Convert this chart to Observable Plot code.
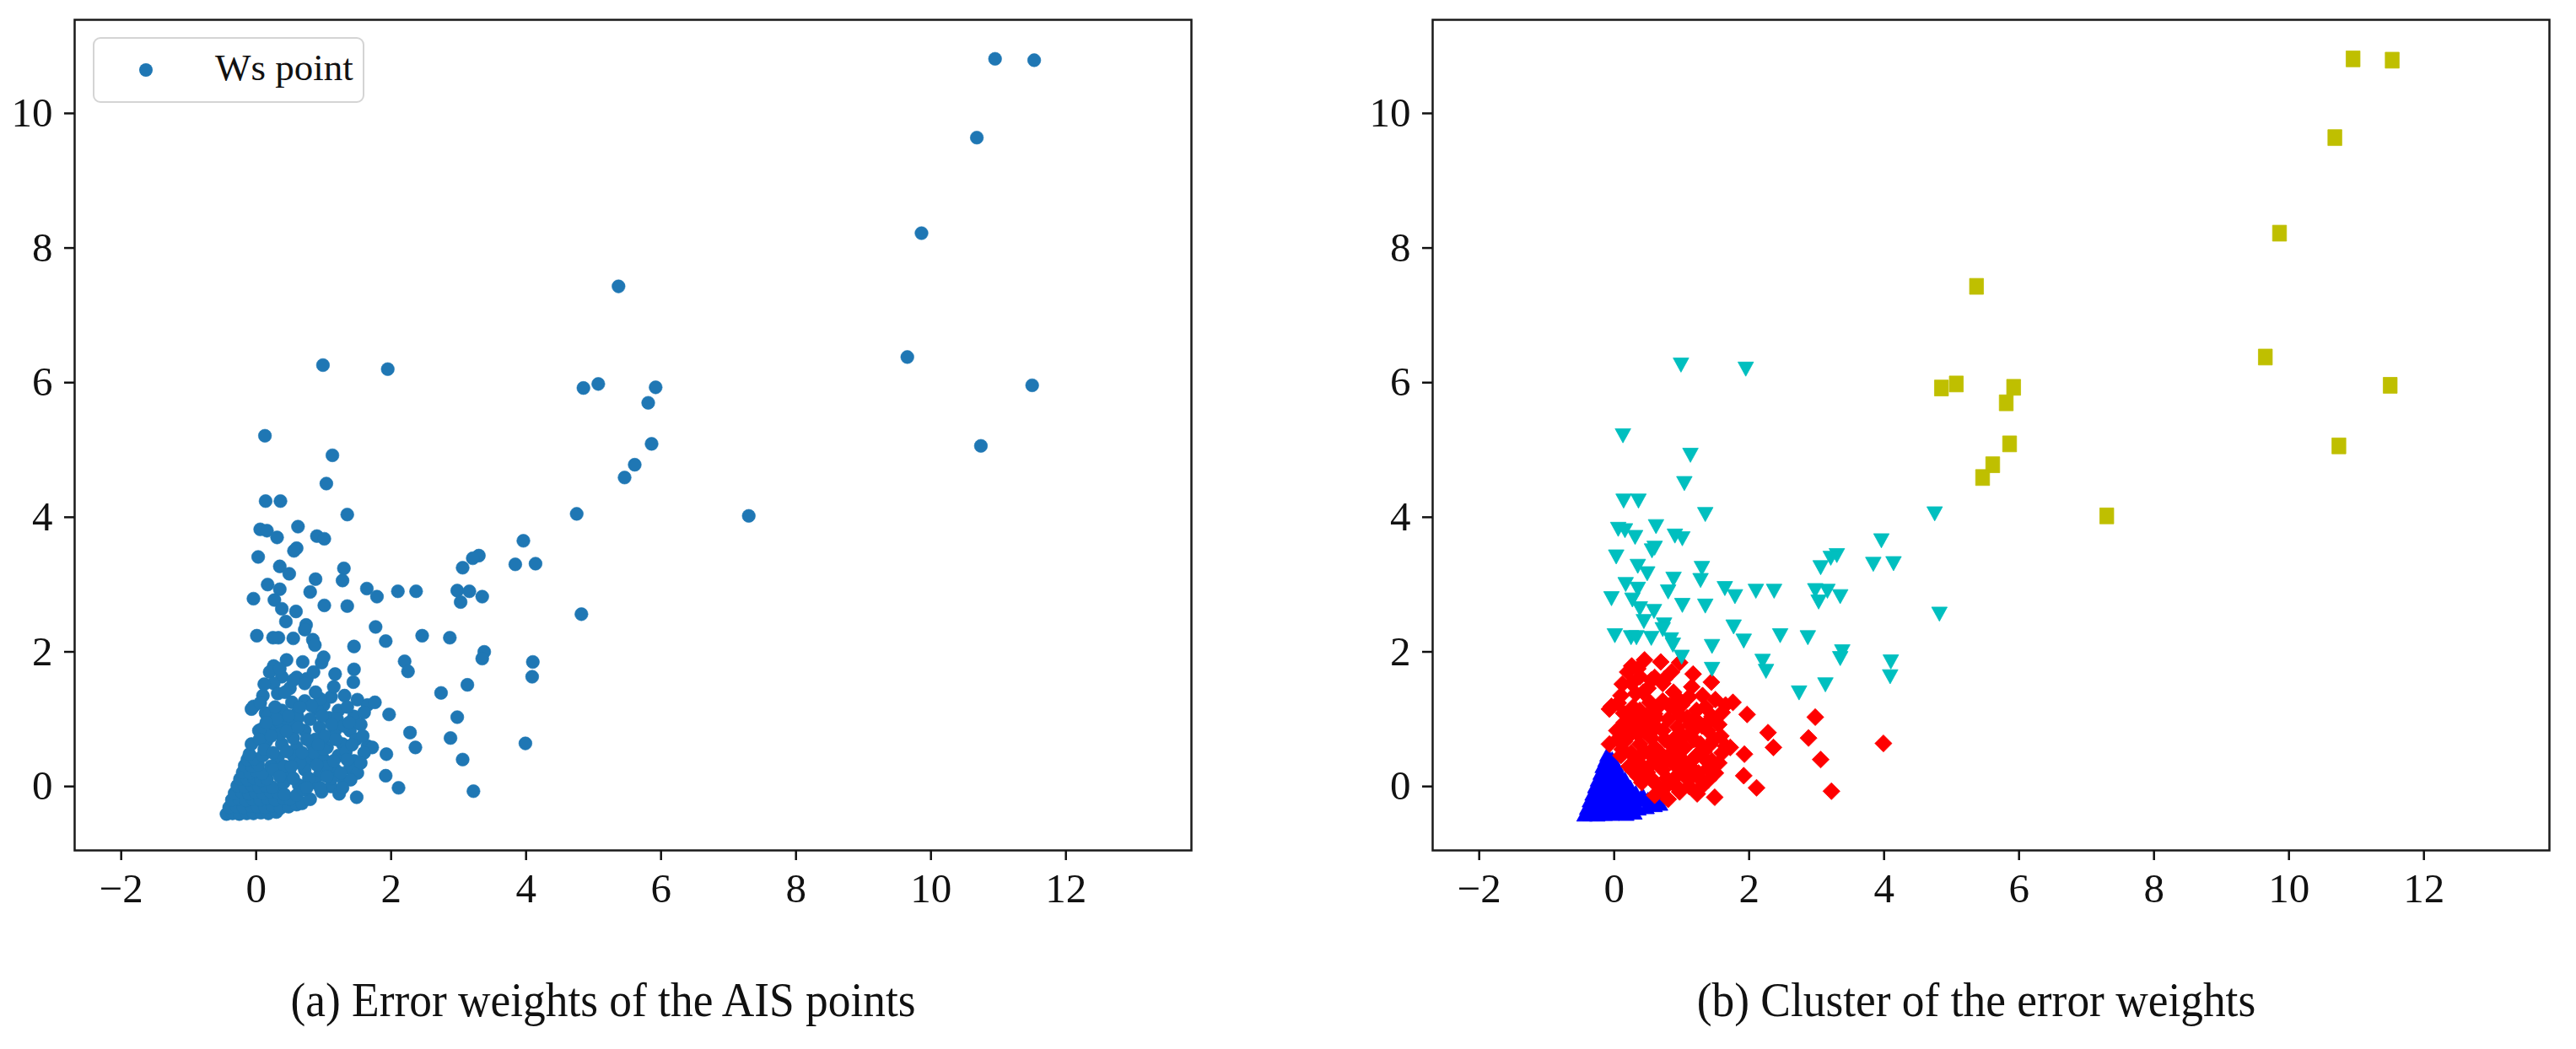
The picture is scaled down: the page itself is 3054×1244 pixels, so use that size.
<!DOCTYPE html>
<html>
<head>
<meta charset="utf-8">
<script src="https://cdn.jsdelivr.net/npm/d3@7"></script>
<script src="https://cdn.jsdelivr.net/npm/@observablehq/plot@0.6"></script>
<style>
  html, body { margin: 0; padding: 0; background: #fff; }
  #page { position: relative; width: 3054px; height: 1244px; overflow: hidden; background: #fff; font-family: "Liberation Serif", "DejaVu Serif", serif; }
  .panel { position: absolute; top: 0; }
  .caption { position: absolute; font-size: 58px; line-height: 58px; white-space: nowrap; color: #111; transform: translateX(-50%) scaleX(0.92); transform-origin: 50% 50%; }
  #legend { position: absolute; left: 110px; top: 44px; width: 318px; height: 74px; border: 2.5px solid #d4d4d4; border-radius: 9px; background: rgba(255,255,255,0.85); }
  #legend .dot { position: absolute; left: 53px; top: 29px; width: 16px; height: 16px; border-radius: 50%; background: #1f77b4; }
  #legend .lbl { position: absolute; left: 143px; top: 8px; font-size: 45px; line-height: 52px; color: #111; white-space: nowrap; }
</style>
</head>
<body>
<div id="page">
  <div id="left" class="panel" style="left:0px"></div>
  <div id="right" class="panel" style="left:1610px"></div>
  <div id="legend"><div class="dot"></div><div class="lbl">Ws point</div></div>
  <div class="caption" style="left:715px; top:1157px">(a) Error weights of the AIS points</div>
  <div class="caption" style="left:2343px; top:1157px">(b) Cluster of the error weights</div>
</div>
<script>
// ---- data (x, y) per cluster ----
const clusterYellow = [
  [10.95,10.81],[11.53,10.79],[10.68,9.64],[9.86,8.22],[5.37,7.43],[9.65,6.38],[11.50,5.96],[10.74,5.06],
  [4.85,5.92],[5.07,5.98],[5.92,5.93],[5.81,5.70],[5.86,5.09],[5.61,4.78],[5.46,4.59],[7.30,4.02]
];
const clusterCyan = [
  [0.99,6.26],[1.95,6.20],[0.13,5.21],[1.13,4.92],[1.04,4.50],[0.14,4.24],[0.36,4.24],[1.35,4.04],[4.75,4.05],
  [0.06,3.82],[0.16,3.80],[0.31,3.70],[0.62,3.86],[0.90,3.72],[1.01,3.68],[0.60,3.54],[0.56,3.50],[3.96,3.65],
  [0.03,3.41],[0.35,3.27],[0.49,3.16],[1.30,3.24],[3.84,3.30],[4.14,3.31],[3.30,3.43],[3.21,3.39],[3.06,3.25],
  [0.17,3.00],[0.88,3.08],[1.28,3.06],[-0.04,2.79],[0.27,2.77],[0.35,2.93],[0.80,2.89],[1.64,2.94],[1.79,2.82],
  [2.10,2.90],[2.37,2.90],[2.98,2.91],[3.16,2.90],[3.03,2.74],[3.35,2.82],
  [1.01,2.69],[1.35,2.68],[0.38,2.64],[0.59,2.60],[0.44,2.45],[0.74,2.40],[0.72,2.33],[4.82,2.56],
  [0.01,2.24],[0.25,2.21],[0.33,2.21],[0.55,2.20],[0.84,2.18],[0.87,2.10],[1.77,2.37],[1.92,2.16],[2.46,2.24],[2.87,2.21],
  [1.00,1.92],[1.45,2.08],[1.45,1.74],[2.20,1.86],[2.25,1.71],[3.38,2.00],[3.35,1.90],[4.10,1.85],[4.09,1.63],[2.74,1.39],[3.13,1.51]
];
const clusterRed = [
  [0.26,1.79],[0.45,1.88],[0.69,1.85],[0.97,1.84],[0.20,1.70],[0.38,1.63],[0.60,1.62],[0.75,1.60],[1.17,1.67],[1.44,1.55],
  [0.26,1.53],[0.50,1.46],[0.72,1.53],[0.10,1.35],[0.32,1.38],[0.43,1.40],[0.72,1.27],[-0.07,1.15],[-0.04,1.19],[0.06,1.24],
  [0.14,1.09],[0.18,1.06],[0.38,1.13],[0.60,1.08],[0.62,1.02],[1.00,1.21],[1.11,1.33],[1.31,1.35],[1.50,1.29],[1.65,1.21],
  [1.76,1.25],[0.90,1.15],[1.22,1.13],[1.45,1.04],[1.08,1.02],
  [0.04,0.83],[0.08,0.85],[0.26,0.88],[0.37,0.92],[0.49,0.92],[0.72,0.83],[0.94,0.88],[1.17,0.83],[1.39,0.83],[1.55,0.92],
  [-0.07,0.63],[0.15,0.67],[0.38,0.63],[0.60,0.58],[0.83,0.63],[1.05,0.58],[1.28,0.63],[1.48,0.70],[1.65,0.60],[1.72,0.58],
  [0.10,0.46],[0.32,0.42],[0.55,0.46],[0.77,0.38],[0.99,0.42],[1.22,0.46],[1.45,0.38],[1.60,0.50],
  [0.22,0.30],[0.26,0.25],[0.49,0.21],[0.72,0.25],[0.94,0.17],[1.17,0.25],[1.39,0.27],[1.50,0.20],
  [0.41,0.06],[0.63,0.02],[0.86,0.06],[1.11,0.00],[1.30,0.08],
  [0.60,-0.13],[0.80,-0.19],[0.97,-0.08],[1.23,-0.11],[1.49,-0.16],[0.70,-0.05],
  [0.35,0.78],[0.55,0.72],[0.85,0.50],[1.05,0.30],[0.65,0.35],[0.88,0.70],[1.12,0.12],[0.45,0.52],[1.33,0.52],[0.80,1.00],
  [0.95,1.30],[0.53,1.25],[1.20,1.00],[1.35,1.18],[0.30,1.00],[0.15,0.95],[0.05,0.70],[1.40,0.10],[1.02,0.75],[0.78,0.12],
  [0.12,0.55],[0.25,0.50],[0.42,0.30],[0.55,0.12],[0.68,0.50],[0.90,0.32],[1.00,0.55],[1.15,0.38],[1.25,0.20],[1.35,0.40],
  [1.42,0.62],[1.55,0.35],[1.58,0.75],[1.30,0.90],[1.12,0.92],[0.98,1.05],[0.82,1.20],[0.65,1.18],[0.48,1.05],[0.28,1.18],
  [0.22,0.75],[0.45,0.82],[0.62,0.88],[0.75,0.70],[0.92,0.62],[1.18,0.70],[1.05,0.15],[0.95,-0.02],[0.75,-0.02],[0.52,0.30],
  [0.35,0.15],[1.28,-0.02],[1.38,0.95],[1.60,1.10],[1.15,1.48],[0.88,1.40],[0.55,1.58],[0.35,1.75],[0.85,1.70],[0.12,1.52],
  [1.93,0.48],[1.92,0.16],[1.97,1.07],[2.28,0.80],[2.36,0.58],[2.11,-0.02],[2.98,1.03],[2.88,0.72],[3.06,0.40],[3.22,-0.07],[3.99,0.64]
];
const clusterBlue = [
  [-0.44,-0.41],[-0.35,-0.40],[-0.25,-0.41],[-0.14,-0.40],[-0.04,-0.40],[0.07,-0.39],[0.18,-0.40],[0.30,-0.38],
  [-0.40,-0.31],[-0.29,-0.30],[-0.19,-0.31],[-0.08,-0.29],[0.02,-0.30],[0.13,-0.31],[0.24,-0.29],[0.36,-0.32],[0.48,-0.30],[0.60,-0.27],[0.68,-0.25],
  [-0.36,-0.20],[-0.25,-0.19],[-0.15,-0.21],[-0.05,-0.19],[0.06,-0.20],[0.17,-0.18],[0.28,-0.20],[0.40,-0.17],[0.50,-0.19],
  [-0.32,-0.10],[-0.21,-0.09],[-0.11,-0.11],[-0.01,-0.09],[0.10,-0.10],[0.21,-0.08],[0.32,-0.09],[0.42,-0.12],
  [-0.28,0.01],[-0.17,0.00],[-0.07,0.02],[0.04,-0.01],[0.14,0.01],[0.24,-0.01],
  [-0.24,0.11],[-0.13,0.10],[-0.03,0.12],[0.07,0.09],[0.16,0.11],
  [-0.20,0.21],[-0.09,0.20],[0.01,0.22],[0.09,0.19],
  [-0.17,0.31],[-0.06,0.30],[0.03,0.32],
  [-0.13,0.40],[-0.03,0.41],
  [-0.10,0.48]
];
const xTicks = [-2, 0, 2, 4, 6, 8, 10, 12];
const yTicks = [0, 2, 4, 6, 8, 10];
const xDomain = [-2.69, 13.86];
const yDomain = [-0.95, 11.39];

const allPoints = [...clusterBlue, ...clusterRed, ...clusterCyan, ...clusterYellow];

// ---- custom matplotlib-like marker shapes ----
const triDown = { draw(c, size) { const s = Math.sqrt(size), w = s * 1.1, h = s; c.moveTo(-w/2, -h/2); c.lineTo(w/2, -h/2); c.lineTo(0, h/2); c.closePath(); } };
const triUp = { draw(c, size) { const s = Math.sqrt(size), w = s * 1.1, h = s; c.moveTo(-w/2, h/2); c.lineTo(w/2, h/2); c.lineTo(0, -h/2); c.closePath(); } };
const diamondD = { draw(c, size) { const d = Math.sqrt(size) * 1.2 / 2; c.moveTo(0, -d); c.lineTo(d, 0); c.lineTo(0, d); c.lineTo(-d, 0); c.closePath(); } };
const squareS = { draw(c, size) { const s = Math.sqrt(size), w = s * 0.98 / 2, h = s * 1.12 / 2; c.moveTo(-w, -h); c.lineTo(w, -h); c.lineTo(w, h); c.lineTo(-w, h); c.closePath(); } };

const fmt = d => d < 0 ? "\u2212" + Math.abs(d) : String(d);

function axes() {
  return [
    Plot.frame({ stroke: "#1a1a1a", strokeWidth: 2.5 }),
    Plot.axisX({ ticks: xTicks, tickFormat: fmt, tickSize: 12, tickPadding: 15, strokeWidth: 2.5, label: null, fontSize: 49 }),
    Plot.axisY({ ticks: yTicks, tickFormat: fmt, tickSize: 12, tickPadding: 14, strokeWidth: 2.5, label: null, fontSize: 49 })
  ];
}

function base(width, marginRight, marks) {
  return Plot.plot({
    width, height: 1090,
    marginLeft: 88, marginRight, marginTop: 23, marginBottom: 82,
    x: { domain: xDomain },
    y: { domain: yDomain },
    style: { fontFamily: "Liberation Serif", fontSize: "49px", color: "#111", background: "transparent", overflow: "visible" },
    marks
  });
}

const left = base(1500, 88, [
  Plot.dot(allPoints, { x: d => d[0], y: d => d[1], r: 7.8, fill: "#1f77b4", stroke: "#1f77b4", strokeWidth: 0.6 }),
  ...axes()
]);
document.getElementById("left").appendChild(left);

const right = base(1444, 32, [
  Plot.dot(clusterBlue, { x: d => d[0], y: d => d[1], r: 9.5, symbol: triUp, fill: "#0000ff", stroke: "#0000ff", strokeWidth: 0.8 }),
  Plot.dot(clusterRed, { x: d => d[0], y: d => d[1], r: 9.5, symbol: diamondD, fill: "#ff0000", stroke: "#ff0000", strokeWidth: 0.8 }),
  Plot.dot(clusterCyan, { x: d => d[0], y: d => d[1], r: 9.5, symbol: triDown, fill: "#00bfbf", stroke: "#00bfbf", strokeWidth: 0.8 }),
  Plot.dot(clusterYellow, { x: d => d[0], y: d => d[1], r: 9.5, symbol: squareS, fill: "#bfbf00", stroke: "#bfbf00", strokeWidth: 0.8 }),
  ...axes()
]);
document.getElementById("right").appendChild(right);
</script>
</body>
</html>
